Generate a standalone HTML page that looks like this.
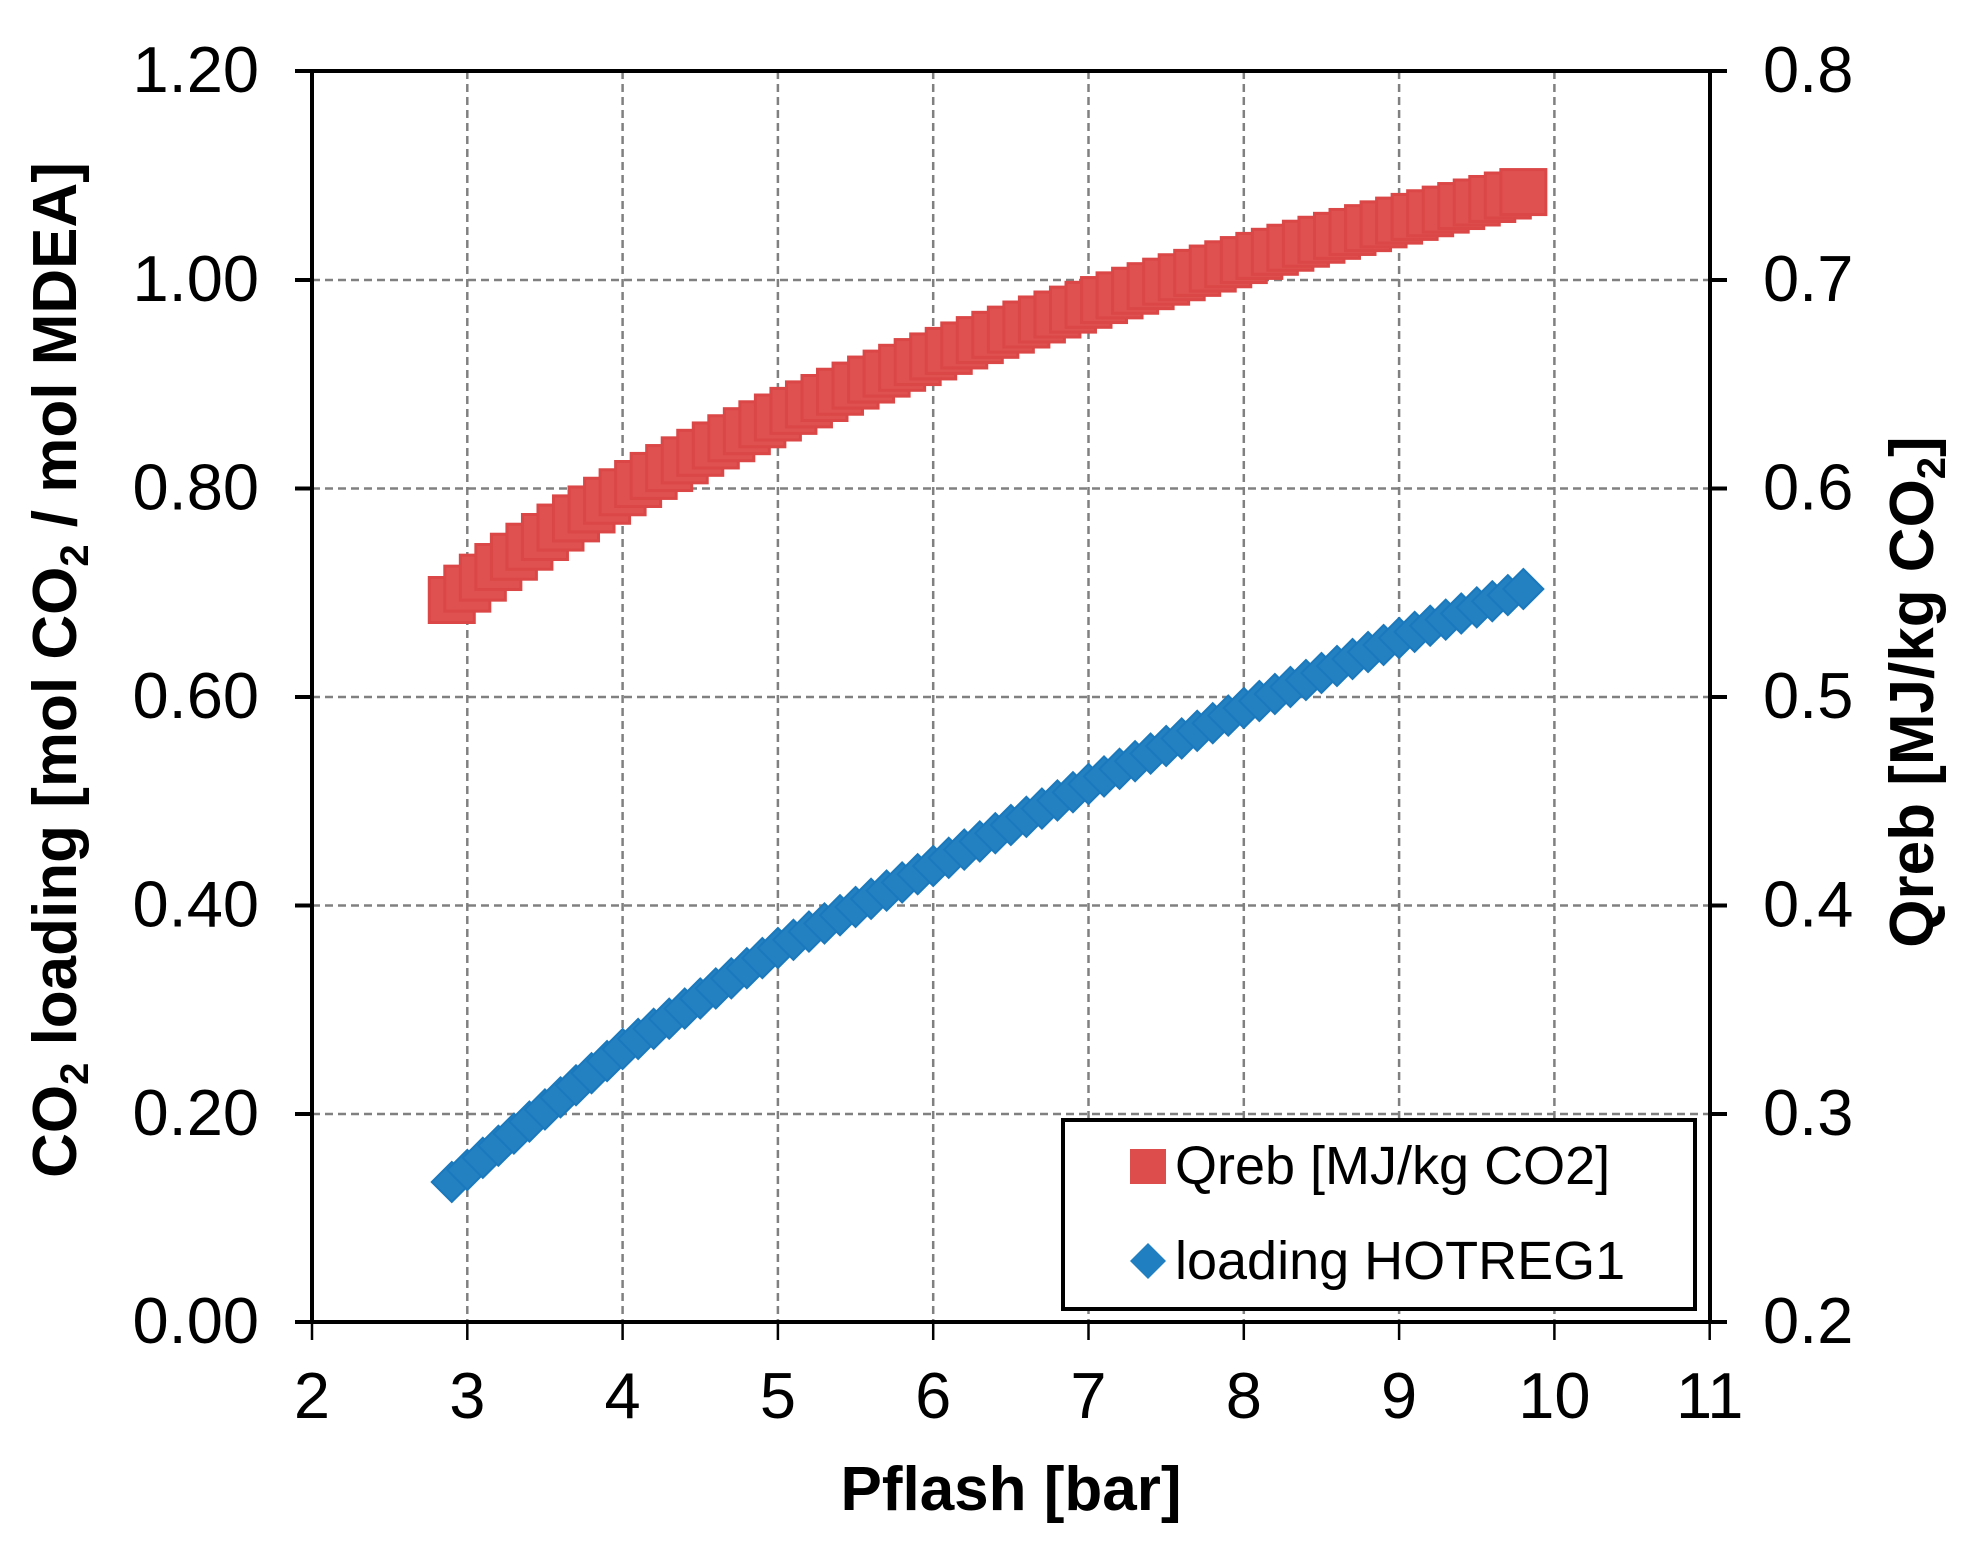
<!DOCTYPE html>
<html><head><meta charset="utf-8"><style>
html,body{margin:0;padding:0;background:#fff;}
svg{display:block;}
text{font-family:"Liberation Sans",Arial,sans-serif;fill:#000;}
</style></head><body>
<svg id="s" width="1982" height="1550" viewBox="0 0 1982 1550" xmlns="http://www.w3.org/2000/svg">
<rect width="1982" height="1550" fill="#fff"/>
<g id="grid" stroke="#808080" stroke-width="2.5" stroke-dasharray="8,5" fill="none">
<line x1="467.3" y1="71" x2="467.3" y2="1322"/>
<line x1="622.6" y1="71" x2="622.6" y2="1322"/>
<line x1="777.9" y1="71" x2="777.9" y2="1322"/>
<line x1="933.2" y1="71" x2="933.2" y2="1322"/>
<line x1="1088.5" y1="71" x2="1088.5" y2="1322"/>
<line x1="1243.8" y1="71" x2="1243.8" y2="1322"/>
<line x1="1399.1" y1="71" x2="1399.1" y2="1322"/>
<line x1="1554.4" y1="71" x2="1554.4" y2="1322"/>
<line x1="312" y1="280" x2="1710" y2="280"/>
<line x1="312" y1="488.5" x2="1710" y2="488.5"/>
<line x1="312" y1="697" x2="1710" y2="697"/>
<line x1="312" y1="905.5" x2="1710" y2="905.5"/>
<line x1="312" y1="1114" x2="1710" y2="1114"/>
</g>
<g id="series"></g>
<g stroke="#000" stroke-width="4" fill="none">
<line x1="312" y1="71" x2="1710" y2="71"/>
<line x1="312" y1="69" x2="312" y2="1324"/>
<line x1="1710" y1="69" x2="1710" y2="1324"/>
<line x1="295" y1="1322" x2="1727" y2="1322"/>
<line x1="295" y1="71" x2="312" y2="71"/><line x1="295" y1="280" x2="312" y2="280"/><line x1="295" y1="488.5" x2="312" y2="488.5"/><line x1="295" y1="697" x2="312" y2="697"/><line x1="295" y1="905.5" x2="312" y2="905.5"/><line x1="295" y1="1114" x2="312" y2="1114"/>
<line x1="1710" y1="71" x2="1727" y2="71"/><line x1="1710" y1="280" x2="1727" y2="280"/><line x1="1710" y1="488.5" x2="1727" y2="488.5"/><line x1="1710" y1="697" x2="1727" y2="697"/><line x1="1710" y1="905.5" x2="1727" y2="905.5"/><line x1="1710" y1="1114" x2="1727" y2="1114"/>
</g>
<g stroke="#000" stroke-width="2.5">
<line x1="312" y1="1322" x2="312" y2="1340"/><line x1="467.3" y1="1322" x2="467.3" y2="1340"/><line x1="622.6" y1="1322" x2="622.6" y2="1340"/><line x1="777.9" y1="1322" x2="777.9" y2="1340"/><line x1="933.2" y1="1322" x2="933.2" y2="1340"/><line x1="1088.5" y1="1322" x2="1088.5" y2="1340"/><line x1="1243.8" y1="1322" x2="1243.8" y2="1340"/><line x1="1399.1" y1="1322" x2="1399.1" y2="1340"/><line x1="1554.4" y1="1322" x2="1554.4" y2="1340"/><line x1="1709.7" y1="1322" x2="1709.7" y2="1340"/>
</g>
<g font-size="65" text-anchor="end">
<text x="259" y="92">1.20</text><text x="259" y="301">1.00</text><text x="259" y="509.5">0.80</text><text x="259" y="718">0.60</text><text x="259" y="926.5">0.40</text><text x="259" y="1135">0.20</text><text x="259" y="1343">0.00</text>
</g>
<g font-size="65">
<text x="1763" y="92">0.8</text><text x="1763" y="301">0.7</text><text x="1763" y="509.5">0.6</text><text x="1763" y="718">0.5</text><text x="1763" y="926.5">0.4</text><text x="1763" y="1135">0.3</text><text x="1763" y="1343">0.2</text>
</g>
<g font-size="65" text-anchor="middle">
<text x="312" y="1418">2</text><text x="467.3" y="1418">3</text><text x="622.6" y="1418">4</text><text x="777.9" y="1418">5</text><text x="933.2" y="1418">6</text><text x="1088.5" y="1418">7</text><text x="1243.8" y="1418">8</text><text x="1399.1" y="1418">9</text><text x="1554.4" y="1418">10</text><text x="1709.7" y="1418">11</text>
</g>
<text x="1011" y="1510" font-size="62" font-weight="bold" text-anchor="middle">Pflash [bar]</text>
<text transform="translate(76,670) rotate(-90)" font-size="62" font-weight="bold" text-anchor="middle">CO<tspan font-size="40" dy="12">2</tspan><tspan dy="-12"> loading [mol CO</tspan><tspan font-size="40" dy="12">2</tspan><tspan dy="-12"> / mol MDEA]</tspan></text>
<text transform="translate(1933,692) rotate(-90)" font-size="62" font-weight="bold" text-anchor="middle">Qreb [MJ/kg CO<tspan font-size="40" dy="12">2</tspan><tspan dy="-12">]</tspan></text>
<rect x="1063" y="1120" width="632" height="189" fill="#fff" stroke="#000" stroke-width="4"/>
<rect x="1130" y="1149" width="36" height="35" fill="#DD4D4B"/>
<polygon points="1148,1243 1166,1261 1148,1279 1130,1261" fill="#1F7FC1"/>
<text x="1175" y="1184" font-size="54">Qreb [MJ/kg CO2]</text>
<text x="1175" y="1279" font-size="54">loading HOTREG1</text>
</svg>
<script>
(function(){
var g=document.getElementById('series'),ns='http://www.w3.org/2000/svg',out='';
function X(x){return 312+(x-2)*155.3;}
var bp=[[2.9,1182],[4,1049],[5,948],[6,866],[7,784],[8,708],[9,638],[9.8,589]];
function by(x){for(var i=0;i<bp.length-1;i++){if(x<=bp[i+1][0]+1e-9){var t=(x-bp[i][0])/(bp[i+1][0]-bp[i][0]);return bp[i][1]+t*(bp[i+1][1]-bp[i][1]);}}return bp[bp.length-1][1];}
for(var i=0;i<=69;i++){var x=2.9+i*0.1;var cx=X(x),cy=by(x);
out+='<polygon points="'+cx+','+(cy-20)+' '+(cx+20)+','+cy+' '+cx+','+(cy+20)+' '+(cx-20)+','+cy+'" fill="#2381C2" stroke="#1A78BC" stroke-width="2"/>';}
for(var i=0;i<=69;i++){var x=2.9+i*0.1;var cx=X(x),cy=600-335*(Math.log(x)-Math.log(2.9));
out+='<rect x="'+(cx-22.5)+'" y="'+(cy-22.5)+'" width="45" height="45" fill="#DF5150" stroke="#DA4746" stroke-width="3"/>';}
g.innerHTML=out;
})();
</script>
</body></html>
